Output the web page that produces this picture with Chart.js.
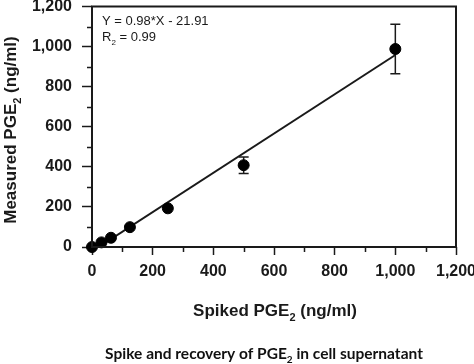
<!DOCTYPE html>
<html>
<head>
<meta charset="utf-8">
<script src="https://cdn.jsdelivr.net/npm/chart.js@4/dist/chart.umd.min.js"></script>
<style>
  html, body { margin: 0; padding: 0; background: #fff; }
  #wrap { width: 474px; height: 364px; }
</style>
</head>
<body>
<div id="wrap"><canvas id="chart" width="474" height="364"></canvas></div>
<script>
"use strict";

// data
const spikedValues = [0, 31.25, 62.5, 125, 250, 500, 1000];
const measuredValues = [0, 23, 46, 99, 193, 408, 988];
const measuredErrors = [0, 0, 0, 0, 0, 41, 123];
const fitX = [0, 1000];
const fitY = [-21.91, 958.09];
const majorTicks = [0, 200, 400, 600, 800, 1000, 1200];

const INK = "#1a1a1a";
const SANS = "'Liberation Sans', Arial, sans-serif";

// text with a subscript part: parts = [[text, isSub], ...]
function drawSubText(ctx, parts, x, y, size, weight, family, align) {
  const subSize = Math.round(size * 0.62);
  const widths = parts.map(([txt, sub]) => {
    ctx.font = `${weight} ${sub ? subSize : size}px ${family}`;
    return ctx.measureText(txt).width;
  });
  const total = widths.reduce((a, b) => a + b, 0);
  let cx = align === "center" ? x - total / 2 : x;
  ctx.textAlign = "left";
  ctx.textBaseline = "alphabetic";
  parts.forEach(([txt, sub], i) => {
    ctx.font = `${weight} ${sub ? subSize : size}px ${family}`;
    ctx.fillText(txt, cx, sub ? y + size * 0.28 : y);
    cx += widths[i];
  });
}

const framePlugin = {
  id: "frame",
  beforeDatasetsDraw(chart) {
    const { ctx, scales } = chart;
    ctx.save();
    ctx.strokeStyle = INK;
    ctx.lineWidth = 1.5;
    spikedValues.forEach((xv, i) => {
      const err = measuredErrors[i];
      if (!err) return;
      const px = scales.x.getPixelForValue(xv);
      const top = scales.y.getPixelForValue(measuredValues[i] + err);
      const bot = scales.y.getPixelForValue(measuredValues[i] - err);
      ctx.beginPath();
      ctx.moveTo(px, top); ctx.lineTo(px, bot);
      ctx.moveTo(px - 5, top); ctx.lineTo(px + 5, top);
      ctx.moveTo(px - 5, bot); ctx.lineTo(px + 5, bot);
      ctx.stroke();
    });
    ctx.restore();
  },
  afterDraw(chart) {
    const { ctx, chartArea: a, scales } = chart;
    ctx.save();
    ctx.strokeStyle = INK;
    ctx.lineWidth = 2;
    ctx.strokeRect(a.left, a.top, a.right - a.left, a.bottom - a.top);

    // minor tick marks
    ctx.lineWidth = 1.5;
    ctx.beginPath();
    scales.x.ticks.forEach((t) => {
      if (majorTicks.includes(t.value)) return;
      const px = Math.round(scales.x.getPixelForValue(t.value)) + 0.5;
      ctx.moveTo(px, a.bottom); ctx.lineTo(px, a.bottom + 5);
    });
    scales.y.ticks.forEach((t) => {
      if (majorTicks.includes(t.value)) return;
      const py = Math.round(scales.y.getPixelForValue(t.value)) + 0.5;
      ctx.moveTo(a.left - 5, py); ctx.lineTo(a.left, py);
    });
    ctx.stroke();

    // fit annotation
    ctx.fillStyle = INK;
    drawSubText(ctx, [["Y = 0.98*X - 21.91", false]], 102, 25, 13, "normal", SANS, "left");
    drawSubText(ctx, [["R", false], ["2", true], [" = 0.99", false]], 102, 41, 13, "normal", SANS, "left");

    // axis titles
    drawSubText(ctx, [["Spiked PGE", false], ["2", true], [" (ng/ml)", false]], 275, 316, 17, "bold", SANS, "center");
    ctx.save();
    ctx.translate(16, 130);
    ctx.rotate(-Math.PI / 2);
    drawSubText(ctx, [["Measured PGE", false], ["2", true], [" (ng/ml)", false]], 0, 0, 17, "bold", SANS, "center");
    ctx.restore();

    // caption
    ctx.fillStyle = "#111";
    drawSubText(ctx, [["Spike and recovery of PGE", false], ["2", true], [" in cell supernatant", false]],
      264, 359, 15.5, "bold", "Lato, 'Noto Sans', sans-serif", "center");
    ctx.restore();
  }
};

function tickLabel(value) {
  return majorTicks.includes(value) ? value.toLocaleString("en-US") : "";
}

const sharedGrid = {
  drawOnChartArea: false,
  tickWidth: 1.5,
  tickColor: (c) => (c.tick && majorTicks.includes(c.tick.value) ? INK : "transparent")
};

const sharedTicks = {
  stepSize: 100,
  autoSkip: false,
  maxRotation: 0,
  color: INK,
  font: { family: SANS, size: 16, weight: "bold" },
  callback: tickLabel
};

new Chart(document.getElementById("chart"), {
  type: "scatter",
  data: {
    datasets: [
      {
        type: "line",
        label: "Fit",
        data: fitX.map((x, i) => ({ x, y: fitY[i] })),
        borderColor: INK,
        borderWidth: 2,
        pointRadius: 0,
        fill: false,
        order: 2
      },
      {
        label: "Measured",
        data: spikedValues.map((x, i) => ({ x, y: measuredValues[i] })),
        backgroundColor: "#000",
        borderColor: "#000",
        pointRadius: 5.5,
        clip: false,
        order: 1
      }
    ]
  },
  options: {
    responsive: false,
    animation: false,
    layout: { padding: { top: 5, right: 18, left: 0, bottom: 0 } },
    plugins: {
      legend: { display: false },
      tooltip: { enabled: false }
    },
    scales: {
      x: {
        type: "linear",
        min: 0,
        max: 1200,
        border: { display: false },
        grid: { ...sharedGrid, tickLength: 8 },
        ticks: { ...sharedTicks, padding: 7 },
        afterFit(scale) {
          scale.height = 117;
          scale.paddingLeft = 0;
          scale.paddingRight = 0;
        }
      },
      y: {
        min: 0,
        max: 1200,
        border: { display: false },
        grid: { ...sharedGrid, tickLength: 10 },
        ticks: { ...sharedTicks, padding: 10 },
        afterFit(scale) {
          scale.width = 92;
          scale.paddingTop = 0;
          scale.paddingBottom = 0;
        }
      }
    }
  },
  plugins: [framePlugin]
});
</script>
</body>
</html>
